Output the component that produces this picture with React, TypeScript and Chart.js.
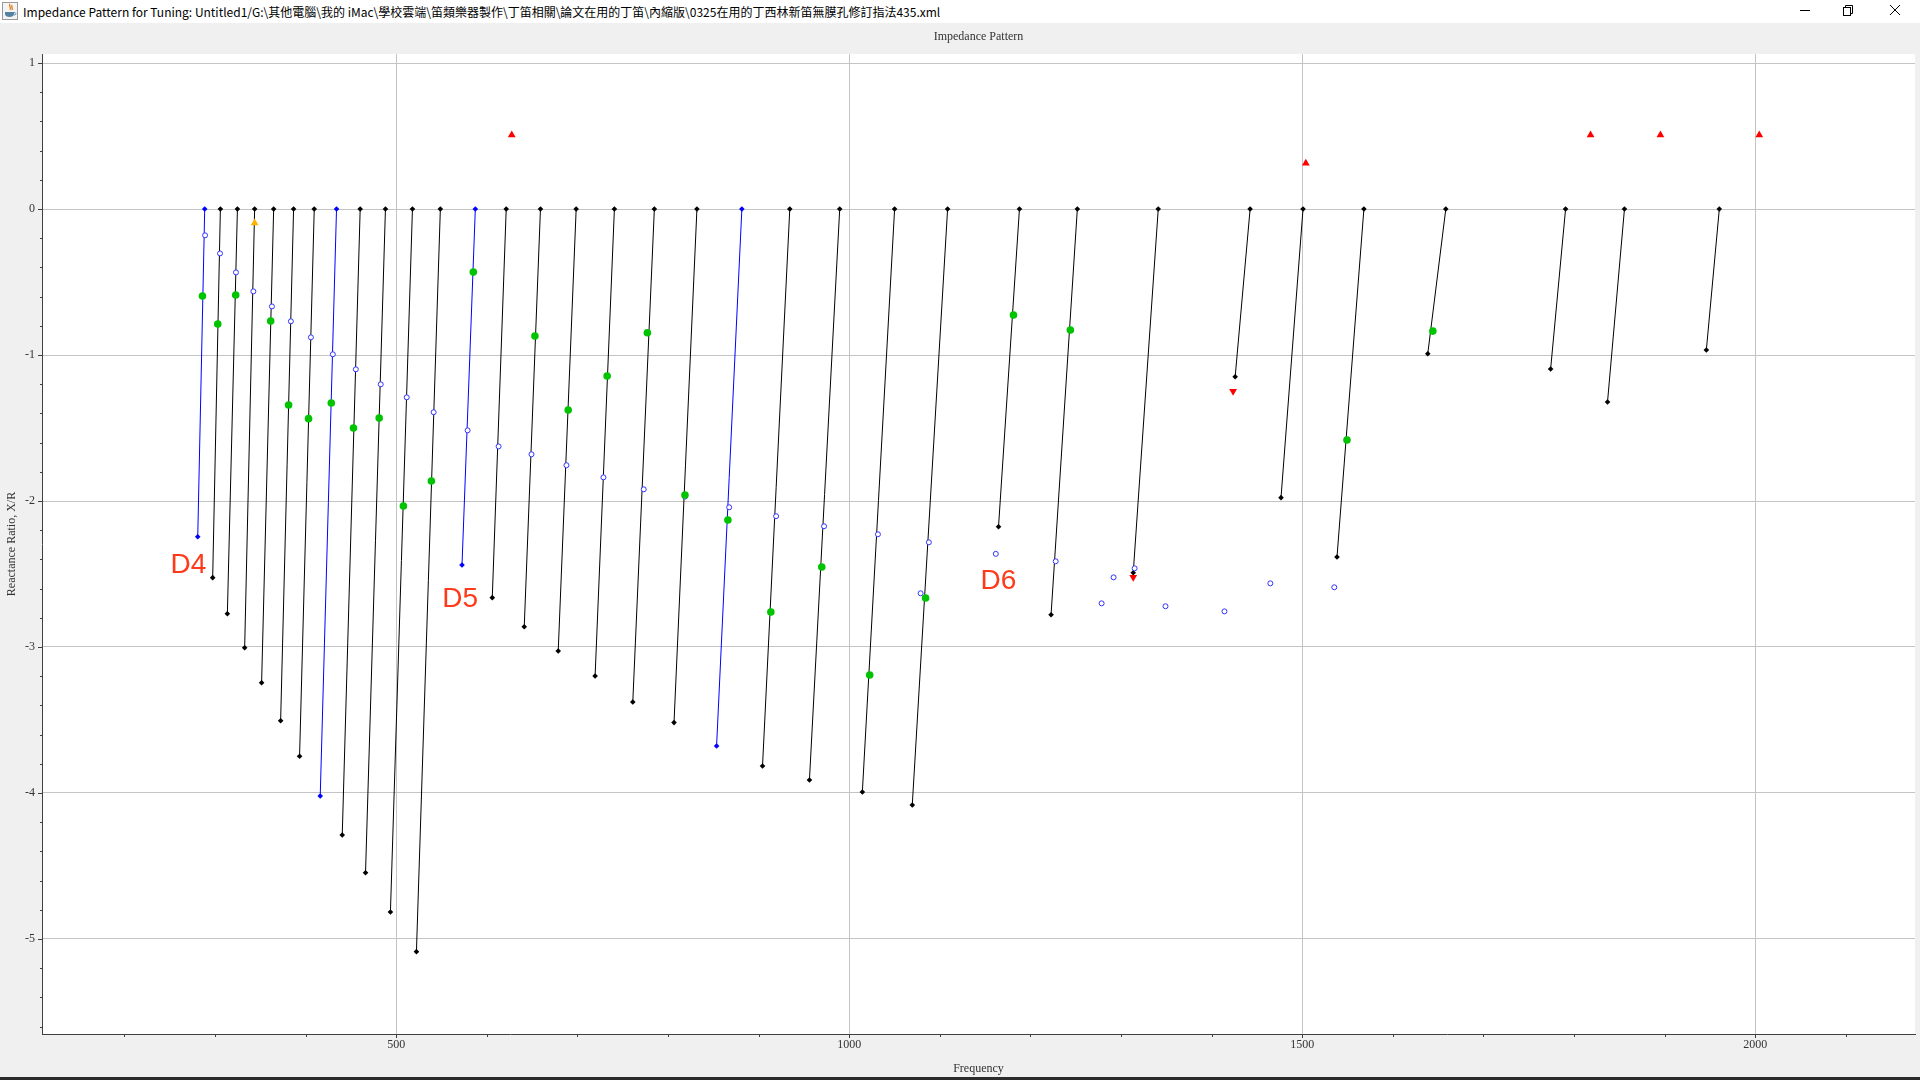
import React, { useEffect, useRef } from "react";
import { Chart, registerables } from "chart.js";

Chart.register(...registerables);

// ---------- texts ----------
const windowTitle =
  "Impedance Pattern for Tuning: Untitled1/G:\\其他電腦\\我的 iMac\\學校雲端\\笛類樂器製作\\丁笛相關\\論文在用的丁笛\\內縮版\\0325在用的丁西林新笛無膜孔修訂指法435.xml";
const chartTitle = "Impedance Pattern";
const xAxisTitle = "Frequency";
const yAxisTitle = "Reactance Ratio, X/R";

// ---------- axis ranges / ticks ----------
const xRange = [109, 2176.4];
const yRange = [-5.651, 1.062];
const xSteps = [100, 500]; // minor, major
const ySteps = [0.2, 1]; // minor, major

// ---------- tuning lines (bottom -> top) ----------
const lineTopHz = [
  288.6, 305.9, 324.7, 343.7, 364.7, 386.7, 409.5, 434.1, 460.2, 488.1, 517.9, 548.7,
  587.3, 621.4, 659.2, 698.6, 740.8, 784.9, 831.9, 881.5, 934.4, 989.5, 1050.1, 1108.6,
  1187.9, 1251.8, 1341.1, 1442.5, 1500.9, 1568.1, 1658.5, 1790.7, 1855.7, 1960.4,
];
const lineTopRatio = [
  0, 0, 0, 0, 0, 0, 0, 0, 0, 0, 0, 0, 0, 0, 0, 0, 0, 0, 0, 0, 0, 0, 0, 0, 0, 0, 0, 0, 0, 0, 0, 0, 0, 0,
];
const lineBottomHz = [
  280.9, 297.4, 313.6, 332.7, 351.4, 372.4, 393.3, 416.1, 440.4, 466.1, 493.6, 522.3,
  572.6, 606.0, 641.3, 678.8, 719.5, 761.1, 806.6, 853.6, 904.3, 956.1, 1014.5, 1069.6,
  1164.8, 1222.8, 1313.5, 1426.0, 1476.6, 1538.4, 1638.6, 1774.2, 1837.0, 1946.1,
];
const lineBottomRatio = [
  -2.245, -2.525, -2.772, -3.005, -3.245, -3.505, -3.748, -4.021, -4.288, -4.546, -4.815, -5.087,
  -2.438, -2.662, -2.861, -3.027, -3.199, -3.377, -3.518, -3.678, -3.815, -3.911, -3.993, -4.082,
  -2.176, -2.779, -2.491, -1.149, -1.977, -2.384, -0.991, -1.096, -1.322, -0.966,
];
const blueLineIndex = [0, 7, 12, 19];

// ---------- markers ----------
const greenHz = [
  286.1, 303.0, 322.8, 361.4, 381.2, 403.2, 428.3, 452.8, 481.2, 507.9, 538.8, 585.1, 653.1,
  689.8, 732.8, 777.2, 818.7, 866.1, 913.5, 969.7, 1022.6, 1084.3, 1181.3, 1244.1, 1549.4, 1644.2,
];
const greenRatio = [
  -0.596, -0.788, -0.589, -0.767, -1.342, -1.436, -1.329, -1.5, -1.432, -2.034, -1.863, -0.432, -0.87,
  -1.377, -1.144, -0.847, -1.959, -2.13, -2.76, -2.452, -3.192, -2.664, -0.726, -0.829, -1.582, -0.836,
];
const openHz = [
  289.0, 305.5, 323.1, 342.3, 362.8, 383.7, 405.8, 430.0, 455.4, 482.9, 511.6, 541.3, 578.8,
  613.0, 649.3, 687.9, 728.7, 773.2, 818.7, 867.5, 919.3, 972.2, 1031.7, 1087.9, 1078.8, 1161.8,
  1227.9, 1278.6, 1291.8, 1315.0, 1349.1, 1414.2, 1464.8, 1535.4,
];
const openRatio = [
  -0.18, -0.304, -0.434, -0.564, -0.667, -0.769, -0.879, -0.995, -1.098, -1.201, -1.29, -1.392, -1.516,
  -1.626, -1.68, -1.755, -1.838, -1.92, -1.97, -2.043, -2.104, -2.173, -2.228, -2.283, -2.632, -2.362,
  -2.413, -2.701, -2.523, -2.461, -2.721, -2.756, -2.564, -2.591,
];
const redUpHz = [627.5, 1504.0, 1818.3, 1895.4, 2004.5];
const redUpRatio = [0.508, 0.314, 0.508, 0.508, 0.508];
const redDownHz = [1423.7, 1313.5];
const redDownRatio = [-1.248, -2.523];
const orangeHz = [343.7];
const orangeRatio = [-0.095];

// ---------- note labels ----------
const noteText = ["D4", "D5", "D6"];
const noteHz = [250.8, 550.9, 1144.9];
const noteRatio = [-2.491, -2.724, -2.605];

const serif = "'Liberation Serif', 'DejaVu Serif', serif";

const isMult = (v: number, step: number) => Math.abs(v / step - Math.round(v / step)) < 1e-6;

const pts = (xs: number[], ys: number[]) => xs.map((x, i) => ({ x, y: ys[i] }));

// tick list at every minor step inside the axis range
const stepTicks = (min: number, max: number, step: number) => {
  const out: { value: number }[] = [];
  const first = Math.ceil(min / step - 1e-9);
  const last = Math.floor(max / step + 1e-9);
  for (let k = first; k <= last; k++) out.push({ value: Math.round(k * step * 1e6) / 1e6 });
  return out;
};

const framePlugin = {
  id: "frame",
  beforeDraw(chart: any) {
    const { ctx, chartArea: a } = chart;
    ctx.save();
    ctx.fillStyle = "#ffffff";
    ctx.fillRect(a.left, a.top, a.right - a.left, a.bottom - a.top);
    ctx.fillStyle = "#333333";
    ctx.font = `12px ${serif}`;
    ctx.textAlign = "center";
    ctx.textBaseline = "middle";
    ctx.fillText(chartTitle, (a.left + a.right) / 2, 13.7);
    ctx.restore();
  },
  afterDatasetsDraw(chart: any) {
    const { ctx } = chart;
    const xs = chart.scales.x;
    const ys = chart.scales.y;
    ctx.save();
    ctx.fillStyle = "#ff3a1a";
    ctx.font = "28px 'Liberation Sans', Arial, sans-serif";
    ctx.textAlign = "left";
    ctx.textBaseline = "alphabetic";
    noteText.forEach((t, i) => {
      ctx.fillText(t, xs.getPixelForValue(noteHz[i]), ys.getPixelForValue(noteRatio[i]));
    });
    ctx.restore();
  },
  afterDraw(chart: any) {
    const { ctx } = chart;
    const xs = chart.scales.x;
    const ys = chart.scales.y;
    ctx.save();
    ctx.strokeStyle = "#404040";
    ctx.lineWidth = 1;
    ctx.beginPath();
    xs.ticks.forEach((t: any) => {
      const px = Math.round(xs.getPixelForValue(t.value)) + 0.5;
      const len = isMult(t.value, xSteps[1]) ? 4 : 3;
      ctx.moveTo(px, xs.top);
      ctx.lineTo(px, xs.top + len);
    });
    ys.ticks.forEach((t: any) => {
      const py = Math.round(ys.getPixelForValue(t.value)) + 0.5;
      const len = isMult(t.value, ySteps[1]) ? 4 : 2;
      ctx.moveTo(ys.right, py);
      ctx.lineTo(ys.right - len, py);
    });
    ctx.stroke();
    ctx.restore();
  },
};

export default function App() {
  const ref = useRef<HTMLCanvasElement>(null);

  useEffect(() => {
    document.body.style.margin = "0";
    const lineSets = lineTopHz.map((top, i) => {
      const c = blueLineIndex.includes(i) ? "#0000ff" : "#000000";
      return {
        type: "scatter",
        showLine: true,
        data: [
          { x: lineBottomHz[i], y: lineBottomRatio[i] },
          { x: top, y: lineTopRatio[i] },
        ],
        borderColor: c,
        backgroundColor: c,
        borderWidth: 1,
        pointStyle: "rectRot",
        pointRadius: 2.8,
        pointBorderWidth: 0,
        pointBackgroundColor: c,
        pointBorderColor: c,
        tension: 0,
        order: 5,
      };
    });

    const markerSets = [
      {
        data: pts(openHz, openRatio),
        pointStyle: "circle",
        pointRadius: 2.5,
        pointBorderWidth: 1,
        pointBorderColor: "#3434ff",
        pointBackgroundColor: "#ffffff",
        order: 3,
      },
      {
        data: pts(greenHz, greenRatio),
        pointStyle: "circle",
        pointRadius: 3.8,
        pointBorderWidth: 0,
        pointBorderColor: "#00c400",
        pointBackgroundColor: "#00c400",
        order: 2,
      },
      {
        data: pts(redUpHz, redUpRatio),
        pointStyle: "triangle",
        pointRadius: 4.5,
        pointBorderWidth: 0,
        pointBorderColor: "#ff0000",
        pointBackgroundColor: "#ff0000",
        order: 1,
      },
      {
        data: pts(redDownHz, redDownRatio),
        pointStyle: "triangle",
        pointRotation: 180,
        pointRadius: 4.5,
        pointBorderWidth: 0,
        pointBorderColor: "#ff0000",
        pointBackgroundColor: "#ff0000",
        order: 1,
      },
      {
        data: pts(orangeHz, orangeRatio),
        pointStyle: "triangle",
        pointRadius: 4.5,
        pointBorderWidth: 0,
        pointBorderColor: "#ffb400",
        pointBackgroundColor: "#ffb400",
        order: 1,
      },
    ].map((d) => ({ type: "scatter", showLine: false, ...d }));

    const chart = new Chart(ref.current as HTMLCanvasElement, {
      type: "scatter",
      data: { datasets: [...markerSets, ...lineSets] as any },
      plugins: [framePlugin as any],
      options: {
        animation: false,
        responsive: false,
        devicePixelRatio: 1,
        events: [],
        layout: { padding: { left: 0, right: 2, top: 31, bottom: 0 } },
        plugins: {
          legend: { display: false },
          tooltip: { enabled: false },
          title: { display: false },
        },
        scales: {
          x: {
            type: "linear",
            position: "bottom",
            min: xRange[0],
            max: xRange[1],
            bounds: "data",
            afterBuildTicks: (s: any) => {
              s.ticks = stepTicks(xRange[0], xRange[1], xSteps[0]);
            },
            afterFit: (s: any) => {
              s.height = 43;
            },
            border: { display: true, color: "#404040", width: 1 },
            grid: {
              drawTicks: false,
              lineWidth: 1,
              color: (c: any) => (c.tick && isMult(c.tick.value, xSteps[1]) ? "#c4c4c4" : "rgba(0,0,0,0)"),
            },
            ticks: {
              autoSkip: false,
              maxRotation: 0,
              padding: 4,
              color: "#333333",
              font: { family: serif, size: 12 },
              callback: (v: any) => (isMult(Number(v), xSteps[1]) ? String(Math.round(Number(v))) : ""),
            },
            title: {
              display: true,
              text: xAxisTitle,
              color: "#333333",
              font: { family: serif, size: 12 },
              padding: { top: 0, bottom: 1.3 },
            },
          },
          y: {
            type: "linear",
            position: "left",
            min: yRange[0],
            max: yRange[1],
            bounds: "data",
            afterBuildTicks: (s: any) => {
              s.ticks = stepTicks(yRange[0], yRange[1], ySteps[0]);
            },
            afterFit: (s: any) => {
              s.width = 42;
            },
            border: { display: true, color: "#404040", width: 1 },
            grid: {
              drawTicks: false,
              lineWidth: 1,
              color: (c: any) => (c.tick && isMult(c.tick.value, ySteps[1]) ? "#c4c4c4" : "rgba(0,0,0,0)"),
            },
            ticks: {
              autoSkip: false,
              padding: 7,
              color: "#333333",
              font: { family: serif, size: 12 },
              callback: (v: any) => (isMult(Number(v), ySteps[1]) ? String(Math.round(Number(v))) : ""),
            },
            title: {
              display: true,
              text: yAxisTitle,
              color: "#333333",
              font: { family: serif, size: 12 },
              padding: { top: 4.5, bottom: 0 },
            },
          },
        },
      } as any,
    });
    return () => chart.destroy();
  }, []);

  return (
    <div
      style={{
        position: "fixed",
        left: 0,
        top: 0,
        width: 1920,
        height: 1080,
        background: "#f0f0f0",
        overflow: "hidden",
      }}
    >
      <div style={{ position: "absolute", left: 0, top: 0, width: 1920, height: 23, background: "#ffffff" }}>
        <svg width="16" height="18" viewBox="0 0 16 18" style={{ position: "absolute", left: 2, top: 2 }}>
          <rect x="0.5" y="0.5" width="15" height="17" fill="#f4f4f4" stroke="#9a9a9a" />
          <path d="M8 2 C6 4 10 5 8 8 M10 3 C9 5 11 6 10 8" stroke="#e76f00" strokeWidth="1.2" fill="none" />
          <path d="M3 10 H12 V12 C12 14 10 15 7.5 15 C5 15 3 14 3 12 Z" fill="#5382a1" />
          <path d="M12 10.5 C14.5 10.5 14.5 13 12 13" stroke="#5382a1" strokeWidth="1" fill="none" />
        </svg>
        <div
          style={{
            position: "absolute",
            left: 23,
            top: 0,
            height: 23,
            lineHeight: "23px",
            fontFamily: "'Noto Sans CJK TC', 'Noto Sans', sans-serif",
            fontSize: 12,
            color: "#000000",
            whiteSpace: "nowrap",
          }}
        >
          {windowTitle}
        </div>
        <svg width="120" height="23" style={{ position: "absolute", left: 1790, top: 0 }}>
          <line x1="10" y1="10.5" x2="20" y2="10.5" stroke="#000" strokeWidth="1" />
          <rect x="53.5" y="7.5" width="7" height="8" fill="none" stroke="#000" strokeWidth="1" />
          <path d="M55.5 7.5 V5.5 H62.5 V13.5 H60.5" fill="none" stroke="#000" strokeWidth="1" />
          <line x1="100" y1="5" x2="110" y2="15" stroke="#000" strokeWidth="1" />
          <line x1="110" y1="5" x2="100" y2="15" stroke="#000" strokeWidth="1" />
        </svg>
      </div>
      <div style={{ position: "absolute", left: 0, top: 23, width: 1920, height: 1054 }}>
        <canvas ref={ref} width={1920} height={1054} style={{ display: "block", width: 1920, height: 1054 }} />
      </div>
      <div style={{ position: "absolute", left: 0, top: 1077, width: 1920, height: 3, background: "#2b2b2b" }} />
    </div>
  );
}
